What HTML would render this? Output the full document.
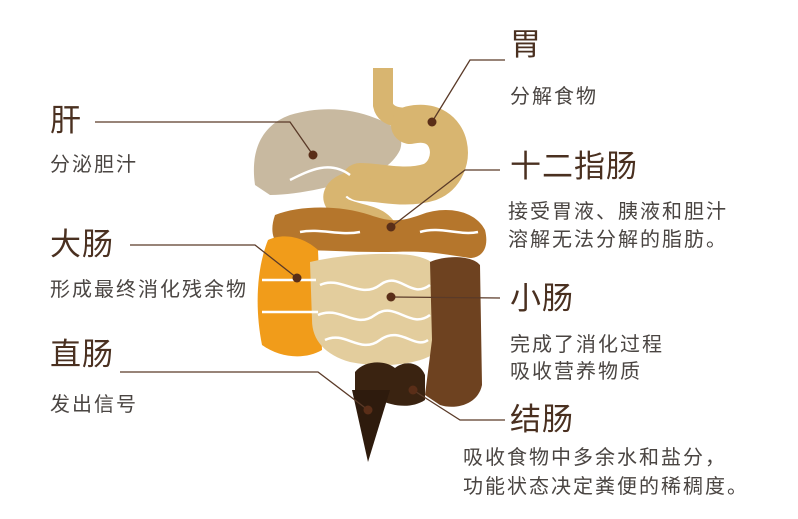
<!DOCTYPE html>
<html><head><meta charset="utf-8"><style>
body{margin:0;background:#fff;width:798px;height:519px;overflow:hidden;font-family:"Liberation Sans","Noto Sans CJK SC",sans-serif;}
svg{position:absolute;left:0;top:0}
.t{position:absolute;color:#4a3020;white-space:nowrap}
.h{font-size:31px;line-height:32px;letter-spacing:1px}
.s{font-size:20px;line-height:22px;color:#4a4542;letter-spacing:2px}
</style></head><body>
<svg width="798" height="519">
<!-- liver -->
<path d="M255,185 C250,150 262,125 290,115 C320,106 350,108 375,118 C395,125 405,135 400,150 C395,160 385,170 370,175 C340,185 300,195 270,195 Z" fill="#c8b9a0"/>
<!-- stomach -->
<g fill="none" stroke="#d8b570" stroke-linecap="round">
<path d="M383,68 L383,105 C385,115 395,118 410,118" stroke-width="20" stroke-linecap="butt"/>
<path d="M410,125 C455,115 460,170 430,182 C405,190 380,182 360,182" stroke-width="38"/>
<path d="M360,182 C335,182 325,200 345,210 C365,218 385,215 390,240" stroke-width="22"/>
</g>
<!-- transverse colon -->
<path d="M275,215 C300,205 340,205 370,215 C390,222 400,222 420,215 C445,205 475,210 485,230 C490,250 480,258 470,258 L450,255 C420,250 405,252 380,252 C350,252 320,250 295,250 C275,250 268,235 275,215 Z" fill="#b5762c"/>
<!-- ascending colon -->
<path d="M268,240 C285,232 305,238 318,250 L322,350 C305,360 280,358 262,345 C255,310 256,270 268,240 Z" fill="#f19c1a"/>
<!-- small intestine -->
<path d="M310,262 C340,255 380,252 410,255 C430,258 440,265 440,280 L432,355 C415,365 380,368 350,362 C325,355 312,340 312,320 Z" fill="#e3cd9d"/>
<g stroke="#fff" stroke-width="2.5" fill="none">
<path d="M320,285 C340,275 360,300 380,285 C400,270 410,300 430,285"/>
<path d="M318,315 C340,305 355,330 375,315 C395,300 410,330 430,315"/>
<path d="M325,340 C345,330 360,355 380,340 C400,325 415,350 428,340"/>
<path d="M290,180 C310,170 330,160 350,175"/>
<path d="M300,232 C320,228 340,236 360,232"/>
<path d="M420,232 C440,226 460,236 478,232"/>
<path d="M262,280 L316,280 M262,312 L318,312"/>
<path d="M432,300 L478,300 M432,340 L478,340"/>
</g>
<!-- descending colon -->
<path d="M430,262 C445,255 472,255 480,265 L482,385 C478,405 455,410 440,405 L425,395 L432,340 Z" fill="#6e4220"/>
<!-- rectum -->
<path d="M355,372 C365,360 385,360 395,368 C405,360 420,362 425,375 L425,400 C410,410 390,405 380,400 L355,395 Z" fill="#3a2311"/>
<path d="M352,390 L390,390 L368,462 Z" fill="#2e1b0d"/>
<!-- connector lines -->
<g stroke="#5a3a28" stroke-width="1.3" fill="none">
<polyline points="95,122 290,122 313,155"/>
<polyline points="505,60 470,60 432,122"/>
<polyline points="500,170 465,170 391,227"/>
<polyline points="130,245 255,245 297,278"/>
<polyline points="500,298 391,297"/>
<polyline points="120,372 318,372 368,410"/>
<polyline points="505,420 460,420 413,390"/>
</g>
<g fill="#5a2e18">
<circle cx="313" cy="155" r="4.5"/><circle cx="432" cy="122" r="4.5"/><circle cx="391" cy="227" r="4.5"/>
<circle cx="297" cy="278" r="4.5"/><circle cx="391" cy="297" r="4.5"/><circle cx="368" cy="410" r="4.5"/><circle cx="413" cy="390" r="4.5"/>
</g>
</svg>
<div class="t h" style="left:50px;top:105px">肝</div>
<div class="t s" style="left:50px;top:154px">分泌胆汁</div>
<div class="t h" style="left:510px;top:29px">胃</div>
<div class="t s" style="left:510px;top:86px">分解食物</div>
<div class="t h" style="left:510px;top:151px">十二指肠</div>
<div class="t s" style="left:508px;top:201px">接受胃液、胰液和胆汁</div>
<div class="t s" style="left:508px;top:229px">溶解无法分解的脂肪。</div>
<div class="t h" style="left:50px;top:229px">大肠</div>
<div class="t s" style="left:50px;top:279px">形成最终消化残余物</div>
<div class="t h" style="left:510px;top:283px">小肠</div>
<div class="t s" style="left:510px;top:334px">完成了消化过程</div>
<div class="t s" style="left:510px;top:361px">吸收营养物质</div>
<div class="t h" style="left:50px;top:339px">直肠</div>
<div class="t s" style="left:50px;top:394px">发出信号</div>
<div class="t h" style="left:510px;top:404px">结肠</div>
<div class="t s" style="left:463px;top:447px">吸收食物中多余水和盐分，</div>
<div class="t s" style="left:463px;top:476px">功能状态决定粪便的稀稠度。</div>
</body></html>
